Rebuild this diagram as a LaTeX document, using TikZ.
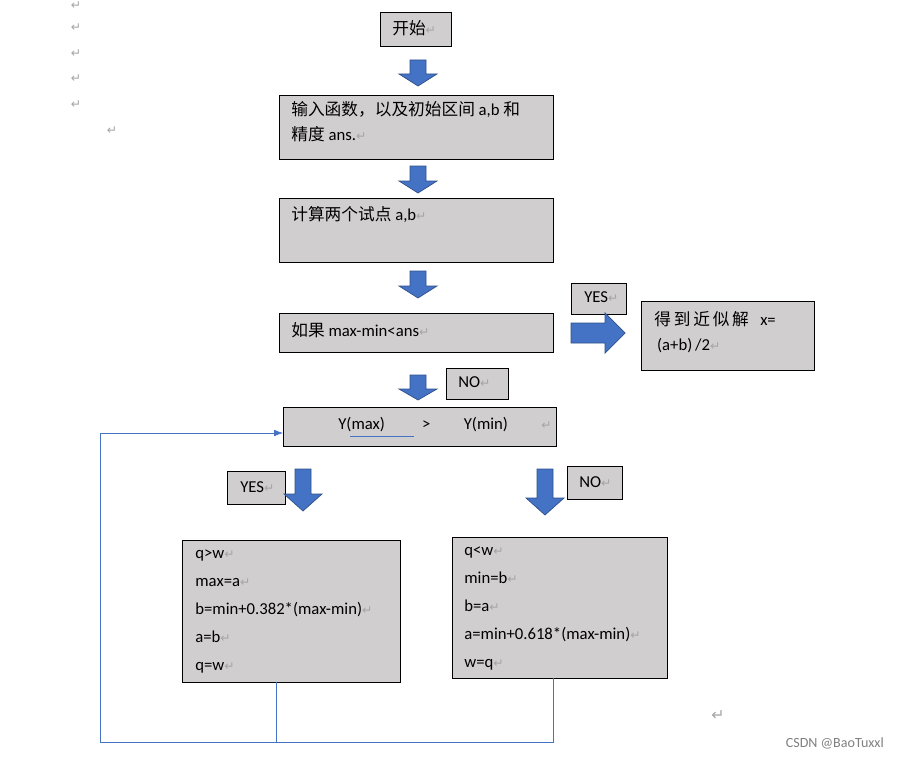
\documentclass[tikz,border=0pt]{standalone}
\usepackage{fontspec}
\usetikzlibrary{arrows.meta}
\setmainfont{Carlito}
\newfontfamily\cjk{Noto Sans CJK SC}
\newfontfamily\arrf{DejaVu Sans}
\newcommand{\rt}{\textcolor{gray!70}{\arrf\scriptsize ↵}}
\begin{document}
\begin{tikzpicture}[x=0.02cm,y=-0.02cm,
  box/.style={draw=black,fill=boxgray,inner sep=0pt,anchor=north west},
  txt/.style={anchor=north west,inner sep=0pt,font=\fontsize{9.5}{14.5}\selectfont,align=left},
  ret/.style={text=gray!70,font=\arrf\fontsize{7}{7}\selectfont,inner sep=0pt},
  blk/.style={fill=arrblue,draw=arrblue!70!black,line width=0.4pt},
  lnk/.style={draw=arrblue,line width=0.4pt},
  pics/down/.style args={#1/#2}{code={\path[blk] (-8,0)--(8,0)--(8,#1-#2)--(19,#1-#2)--(0,#1)--(-19,#1-#2)--(-8,#1-#2)--cycle;}}]
\definecolor{boxgray}{HTML}{D0CECE}
\definecolor{arrblue}{HTML}{4472C4}
\useasboundingbox[fill=white] (0,0) rectangle (899,757);
% margin return marks
\foreach \y in {6,28,54,79,105} \node[ret] at (76,\y) {↵};
\node[ret] at (112,131) {↵};
\node[ret,font=\arrf\fontsize{9}{9}\selectfont] at (718,716) {↵};
% boxes
\node[box,minimum width=71*0.02cm,minimum height=34*0.02cm] (start) at (380,12) {};
\node[txt] at (392,20) {{\cjk 开始}\rt};
\node[box,minimum width=274*0.02cm,minimum height=64*0.02cm] (in) at (279,95) {};
\node[txt] at (291,101) {{\cjk 输入函数，以及初始区间} a,b {\cjk 和}\\{\cjk 精度} ans.\rt};
\node[box,minimum width=274*0.02cm,minimum height=64*0.02cm] (calc) at (279,198) {};
\node[txt] at (291,206) {{\cjk 计算两个试点} a,b\rt};
\node[box,minimum width=274*0.02cm,minimum height=39*0.02cm] (if) at (279,313) {};
\node[txt] at (291,322) {{\cjk 如果} max-min<ans\rt};
\node[box,minimum width=55*0.02cm,minimum height=31*0.02cm] (yes1) at (571,283) {};
\node[txt] at (584,291) {YES\rt};
\node[box,minimum width=173*0.02cm,minimum height=69*0.02cm] (res) at (641,301) {};
\node[txt] at (654,311) {{\cjk 得\,到\,近\,似\,解}\ \ \ x=\\\,({a+b})\,/2\rt};
\node[box,minimum width=62*0.02cm,minimum height=31*0.02cm] (no1) at (446,368) {};
\node[txt] at (458,376) {NO\rt};
\node[box,minimum width=273*0.02cm,minimum height=39*0.02cm] (cmp) at (283,407) {};
\node[txt] at (338,417) {Y(max)\qquad\ >\qquad Y(min)\qquad\rt};
\draw[arrblue,line width=0.5pt] (350,436)--(414,436);
\node[box,minimum width=58*0.02cm,minimum height=33*0.02cm] (yes2) at (227,471) {};
\node[txt] at (240,481) {YES\rt};
\node[box,minimum width=55*0.02cm,minimum height=33*0.02cm] (no2) at (567,466) {};
\node[txt] at (579,476) {NO\rt};
\node[box,minimum width=218*0.02cm,minimum height=142*0.02cm] (L) at (182,540) {};
\node[txt] at (195,549) {q>w\rt\\[1.5pt]max=a\rt\\[1.5pt]b=min+0.382*(max-min)\rt\\[1.5pt]a=b\rt\\[1.5pt]q=w\rt};
\node[box,minimum width=215*0.02cm,minimum height=141*0.02cm] (R) at (452,537) {};
\node[txt] at (464,546) {q<w\rt\\[1.5pt]min=b\rt\\[1.5pt]b=a\rt\\[1.5pt]a=min+0.618*(max-min)\rt\\[1.5pt]w=q\rt};
% block arrows
\pic at (418,60) {down=26/12};
\pic at (418,166) {down=27/12};
\pic at (418,271) {down=27/12};
\pic at (418,375) {down=25/11};
\pic at (303,469) {down=42/17};
\pic at (545,469) {down=46/17};
\path[blk] (571,323)--(605,323)--(605,313)--(625,333)--(605,353)--(605,343)--(571,343)--cycle;
% loop back lines
\coordinate (c1) at (276,742);
\coordinate (c2) at (553,742);
\coordinate (c3) at (100,742);
\coordinate (c4) at (100,433);
\draw[lnk] (276,682)--(c1);
\draw[lnk,-{Latex[length=5pt]}] (553,678)--(c2)--(c3)--(c4)--(cmp.west|-c4);
\node[text=gray,font=\fontsize{8}{8}\selectfont,anchor=east] at (890,743) {CSDN @BaoTuxxl};
\end{tikzpicture}
\end{document}
